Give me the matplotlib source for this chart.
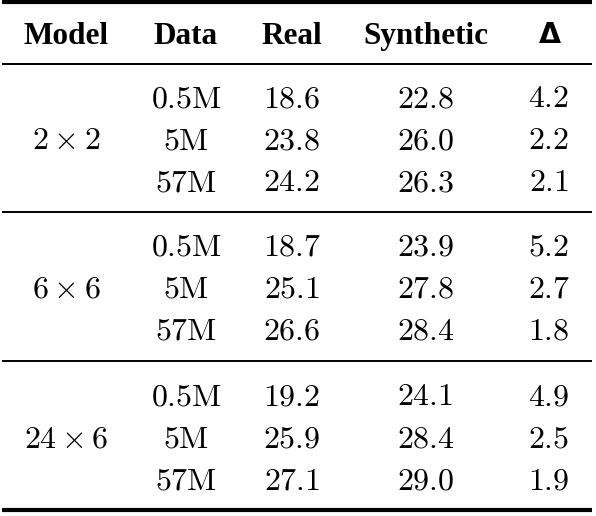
import matplotlib
matplotlib.use("Agg")
import matplotlib.pyplot as plt

plt.rcParams['mathtext.fontset'] = 'cm'

headers = ["Model", "Data", "Real", "Synthetic", "\u0394"]
models = ["2 \\times 2", "6 \\times 6", "24 \\times 6"]
data_sizes = ["0.5M", "5M", "57M"]
real = [[18.6, 23.8, 24.2], [18.7, 25.1, 26.6], [19.2, 25.9, 27.1]]
synthetic = [[22.8, 26.0, 26.3], [23.9, 27.8, 28.4], [24.1, 28.4, 29.0]]
delta = [[4.2, 2.2, 2.1], [5.2, 2.7, 1.8], [4.9, 2.5, 1.9]]

W, H = 596, 516
fig = plt.figure(figsize=(W / 100, H / 100), dpi=100)
ax = fig.add_axes([0, 0, 1, 1])
ax.set_xlim(0, W)
ax.set_ylim(H, 0)
ax.axis('off')

col_x = [66, 186, 292, 425.5, 549]
x0, x1 = 2, 592
header_base = 44
top_rule = 2
mid_rule = 64
group_rules = [212, 361]
bottom_rule = 510
row_base = [[107, 149, 191], [256, 298, 340], [405, 447, 489]]

hfs = 22.5
bfs = 23

ax.hlines(top_rule, x0, x1, color='black', lw=3)
ax.hlines(mid_rule, x0, x1, color='black', lw=1.4)
for y in group_rules:
    ax.hlines(y, x0, x1, color='black', lw=1.4)
ax.hlines(bottom_rule, x0, x1, color='black', lw=3)

for cx, h in zip(col_x[:4], headers[:4]):
    ax.text(cx, header_base, h, ha='center', va='baseline', fontsize=hfs,
            family='Liberation Serif', fontweight='bold')
ax.text(550, header_base - 1, headers[4], ha='center', va='baseline', fontsize=20.5,
        family='DejaVu Sans', fontweight='bold')

for g, model in enumerate(models):
    ax.text(col_x[0], row_base[g][1], f"${model}$", ha='center', va='baseline', fontsize=bfs)
    for r, ds in enumerate(data_sizes):
        y = row_base[g][r]
        ax.text(col_x[1], y, r"$\mathrm{" + ds + "}$", ha='center', va='baseline', fontsize=bfs)
        ax.text(col_x[2], y, f"${real[g][r]:.1f}$", ha='center', va='baseline', fontsize=bfs)
        ax.text(col_x[3], y, f"${synthetic[g][r]:.1f}$", ha='center', va='baseline', fontsize=bfs)
        ax.text(col_x[4], y, f"${delta[g][r]:.1f}$", ha='center', va='baseline', fontsize=bfs)

fig.savefig('out.png', dpi=100, facecolor='white')
